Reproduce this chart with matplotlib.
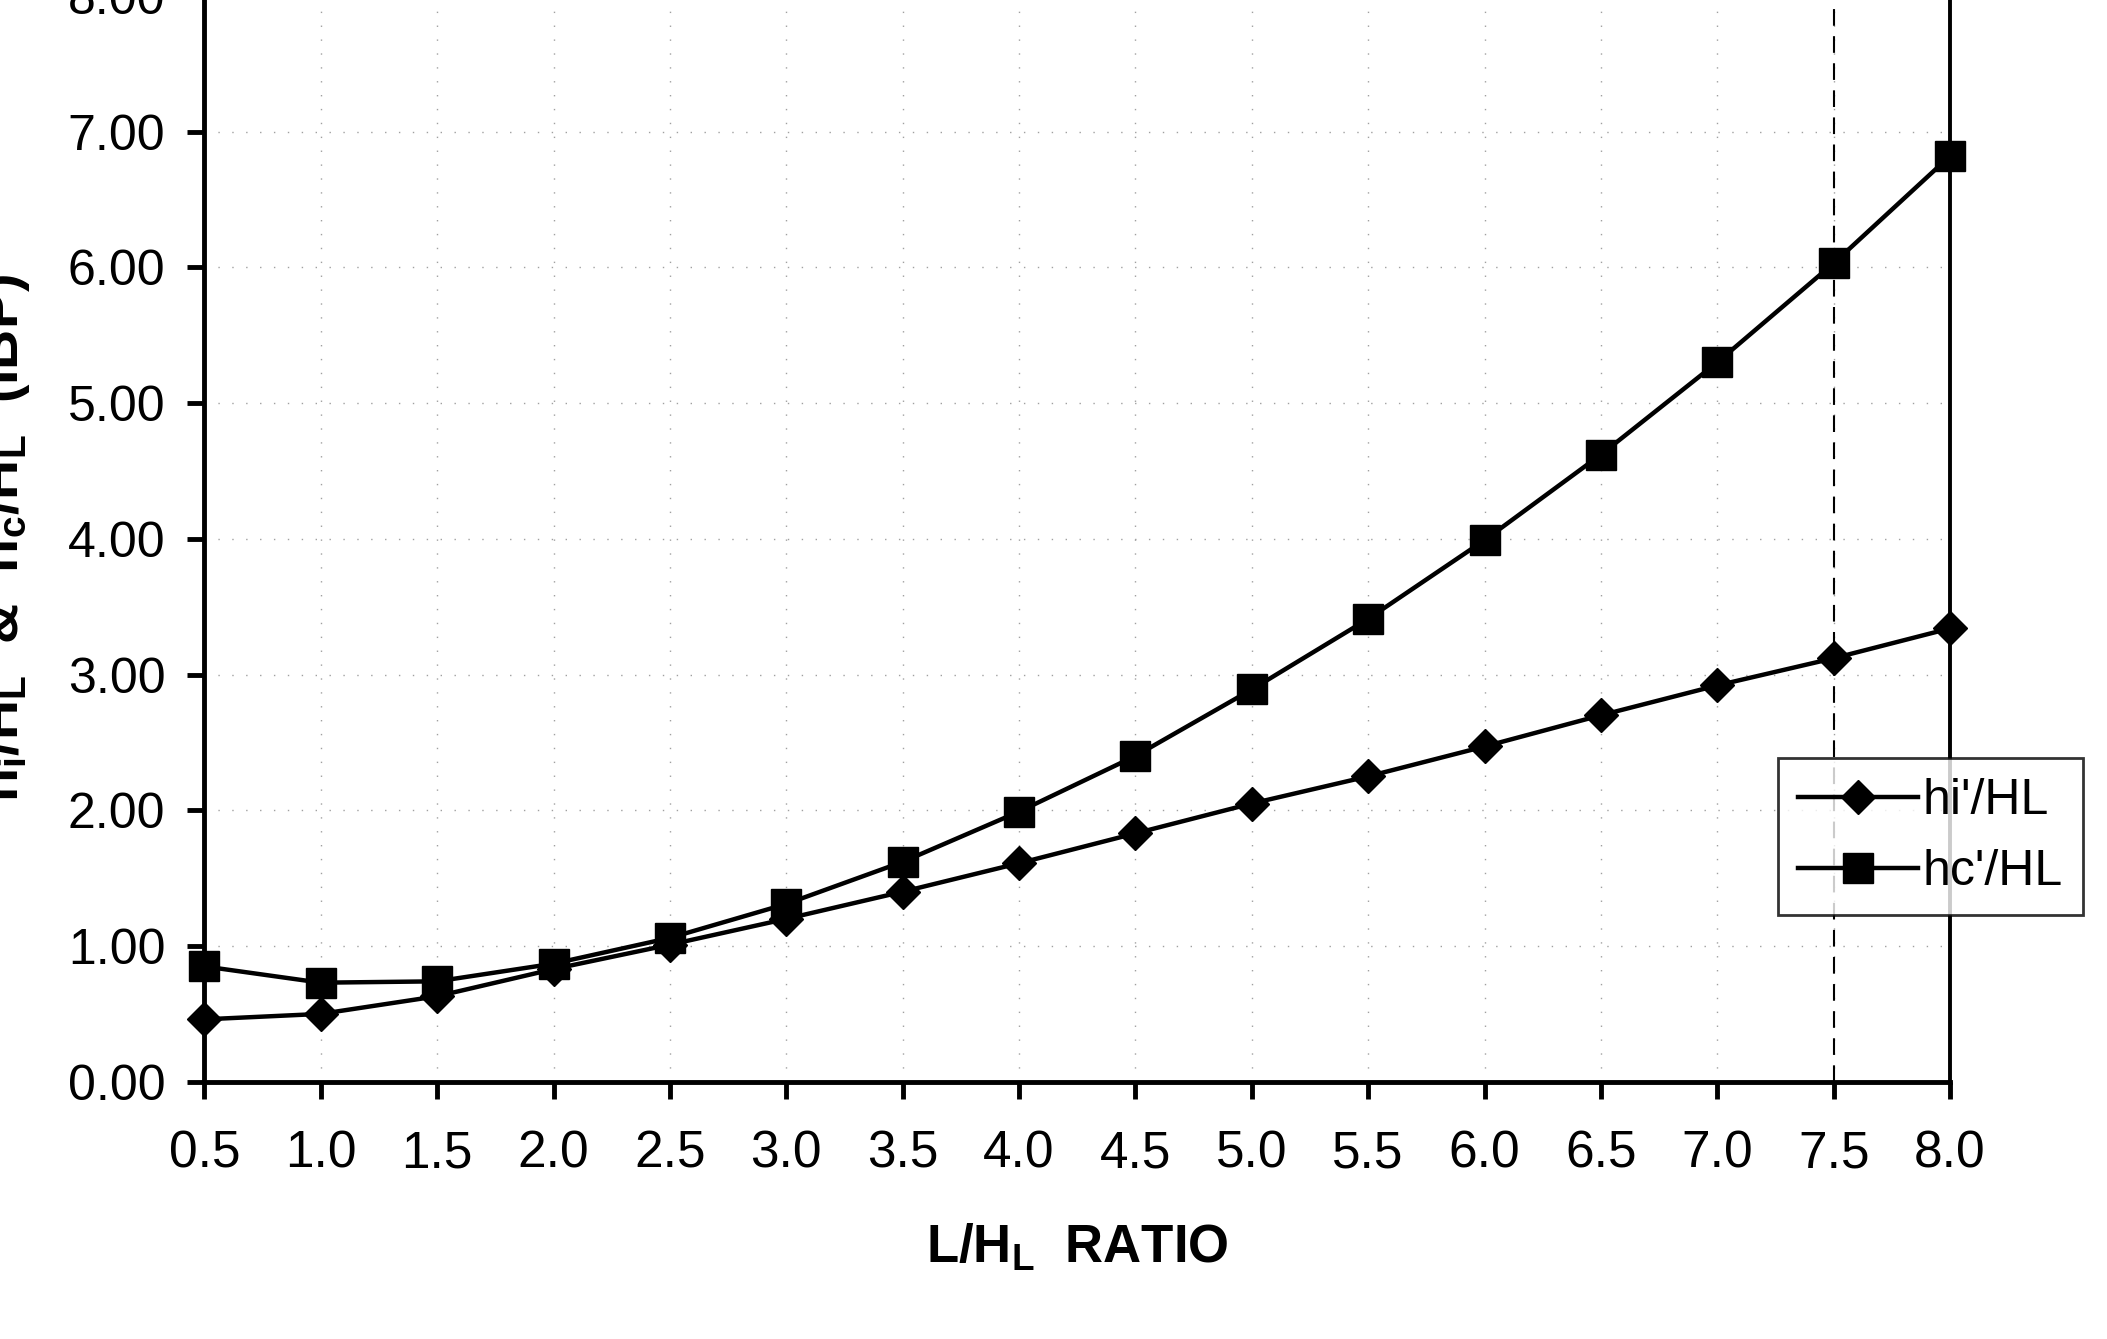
import matplotlib
matplotlib.use('Agg')
import matplotlib.pyplot as plt

plt.rcParams['font.family'] = 'Liberation Sans'
plt.rcParams['mathtext.default'] = 'regular'

# Daten
ratio = [0.5, 1.0, 1.5, 2.0, 2.5, 3.0, 3.5, 4.0, 4.5, 5.0, 5.5, 6.0, 6.5, 7.0, 7.5, 8.0]
hi_hl = [0.46, 0.50, 0.63, 0.83, 1.01, 1.20, 1.40, 1.61, 1.83, 2.05, 2.25, 2.47, 2.70, 2.92, 3.12, 3.34]
hc_hl = [0.85, 0.73, 0.74, 0.87, 1.06, 1.31, 1.62, 1.99, 2.40, 2.89, 3.41, 3.99, 4.62, 5.30, 6.03, 6.82]
x_ticks = ratio
y_ticks = [0, 1, 2, 3, 4, 5, 6, 7, 8]
marker_line = 7.5

fig = plt.figure(figsize=(21.07, 13.39), dpi=100)
ax = fig.add_axes([0.0970, 0.1921, 0.8285, 0.8110])

ax.plot(ratio, hi_hl, color='black', lw=3.2, marker='D', markersize=17,
        label="hi'/HL", clip_on=False, zorder=5)
ax.plot(ratio, hc_hl, color='black', lw=3.2, marker='s', markersize=21.5,
        label="hc'/HL", clip_on=False, zorder=5)

ax.axvline(marker_line, color='black', lw=1.5, ls=(0, (8, 5)), zorder=3)

ax.set_xlim(0.5, 8.0)
ax.set_ylim(0, 8)
ax.set_xticks(x_ticks)
ax.set_xticklabels([f'{v:.1f}' for v in x_ticks])
ax.set_yticks(y_ticks)
ax.set_yticklabels([f'{v:.2f}' for v in y_ticks])

ax.grid(True, color='#a0a0a0', ls=(0, (1, 9)), lw=1)
ax.set_axisbelow(True)

for side in ['left', 'bottom']:
    ax.spines[side].set_linewidth(3.5)
ax.spines['top'].set_visible(False)
ax.spines['right'].set_linewidth(2.8)

ax.tick_params(axis='both', direction='out', length=12, width=3.5, colors='black')
ax.tick_params(axis='x', labelsize=37, pad=22)
ax.tick_params(axis='y', labelsize=36, pad=16)

ax.set_xlabel(r'L/H$_L$  RATIO', fontsize=38, fontweight='bold', labelpad=32)

fig.text(0.0150, 0.598, r'h$_i$/H$_L$  &  h$_c$/H$_L$  (IBP)',
         rotation=90, fontsize=40, fontweight='bold', ha='right', va='center')

leg = ax.legend(loc='upper left', bbox_to_anchor=(0.8438, 0.4339), bbox_transform=fig.transFigure,
                fontsize=36, frameon=True, fancybox=False, edgecolor='black',
                handlelength=2.4, handletextpad=0.1, borderpad=0.4, labelspacing=0.5,
                borderaxespad=0)
leg.get_frame().set_linewidth(2)

fig.savefig('out.png', dpi=100)
